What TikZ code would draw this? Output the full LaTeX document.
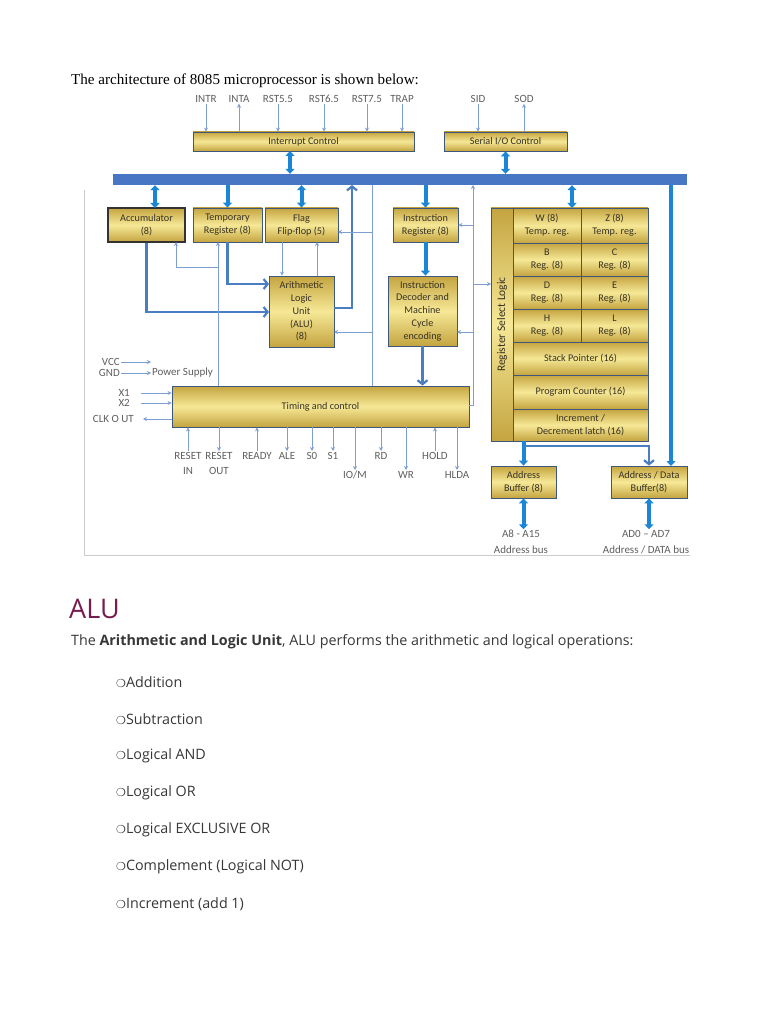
\documentclass[tikz,border=0pt]{standalone}
\usepackage{fontspec}
\setmainfont{Liberation Serif}
\newfontfamily\diagfont{Carlito}
\newfontfamily\bodyfont{Open Sans}
\newfontfamily\dingfont{DejaVu Sans}
\usetikzlibrary{arrows.meta}

\definecolor{busblue}{RGB}{70,118,196}
\definecolor{arrblue}{RGB}{28,134,214}
\definecolor{midblue}{RGB}{74,126,194}
\definecolor{thinblue}{RGB}{125,160,212}
\definecolor{boxline}{RGB}{62,88,125}
\definecolor{goldD}{RGB}{196,164,64}
\definecolor{goldL}{RGB}{246,232,150}
\definecolor{boxtext}{RGB}{55,50,35}
\definecolor{lbltext}{RGB}{95,95,95}
\definecolor{bodytext}{RGB}{55,55,55}
\definecolor{alured}{RGB}{118,28,78}

\newcommand{\bul}{{\dingfont\fontsize{11}{11}\selectfont ❍}}

\begin{document}
\begin{tikzpicture}[x=1pt, y=-1pt,
		blk/.style={draw=boxline, line width=0.8pt, top color=goldD, bottom color=goldD, middle color=goldL,
			align=center, inner sep=0pt, text=boxtext, font=\diagfont\fontsize{10.2}{12.8}\selectfont},
		lbl/.style={inner sep=1pt, align=center, text=lbltext, font=\diagfont\fontsize{11}{15.5}\selectfont},
		wire/.style={draw=thinblue, line width=0.8pt},
		sig/.style={wire, -{Stealth[length=4pt,width=4pt]}},
		fat/.style={draw=midblue, line width=2.2pt, -{Straight Barb[length=4pt,width=10pt]}},
		feed/.style={draw=arrblue, line width=4pt, -{Triangle[length=5pt,width=9pt]}},
		dbl/.style={draw=arrblue, line width=4pt, {Triangle[length=5pt,width=9pt]}-{Triangle[length=5pt,width=9pt]}},
		listitem/.style={anchor=west, inner sep=0pt, text=bodytext, font=\bodyfont\fontsize{14.3}{16}\selectfont}]
	\fill[white] (0,0) rectangle (768,1024);
	\useasboundingbox (0,0) rectangle (768,1024);

	% Heading line
	\node[anchor=west, inner sep=0pt, font=\fontsize{15.1}{17}\selectfont] (title) at (71,81) {The architecture of 8085 microprocessor is shown below:};

	% Interrupt and serial pins
	\node[lbl] (intr) at (206,99) {INTR};
	\node[lbl] (inta) at (239,99) {INTA};
	\node[lbl] (rst55) at (278,99) {RST5.5};
	\node[lbl] (rst65) at (324,99) {RST6.5};
	\node[lbl] (rst75) at (367,99) {RST7.5};
	\node[lbl] (trap) at (402,99) {TRAP};
	\node[lbl] (sid) at (478,99) {SID};
	\node[lbl] (sod) at (524,99) {SOD};

	% Control blocks on top
	\node[blk, minimum width=221pt, minimum height=19pt] (intc) at (303.5,141.5) {Interrupt Control};
	\node[blk, minimum width=123pt, minimum height=19pt] (sio) at (505.5,141.5) {Serial I/O Control};

	\draw[sig] (intr.south) -- (intr.south |- intc.north);
	\draw[sig] (inta.south |- intc.north) -- (inta.south);
	\draw[sig] (rst55.south) -- (rst55.south |- intc.north);
	\draw[sig] (rst65.south) -- (rst65.south |- intc.north);
	\draw[sig] (rst75.south) -- (rst75.south |- intc.north);
	\draw[sig] (trap.south) -- (trap.south |- intc.north);
	\draw[sig] (sid.south) -- (sid.south |- sio.north);
	\draw[sig] (sod.south |- sio.north) -- (sod.south);

	% Internal data bus
	\node[fill=busblue, minimum width=574pt, minimum height=11pt, inner sep=0pt] (bus) at (400,179.5) {};
	\coordinate (intport) at (290,151);
	\draw[dbl] (intport) -- (intport |- bus.north);
	\draw[dbl] (sio.south) -- (sio.south |- bus.north);

	% Accumulator, flags and ALU
	\node[blk, minimum width=77pt, minimum height=34pt, draw=black!80, line width=1.2pt] (acc) at (146.5,225) {Accumulator\\(8)};
	\node[blk, minimum width=69pt, minimum height=34pt] (temp) at (227.5,225) {Temporary\\Register (8)};
	\node[blk, minimum width=73pt, minimum height=34pt] (flag) at (301.5,225) {Flag\\Flip-flop (5)};
	\node[blk, minimum width=65pt, minimum height=71pt] (alu) at (301.5,311.5) {Arithmetic\\Logic\\Unit\\(ALU)\\(8)};

	% Instruction path
	\node[blk, minimum width=65pt, minimum height=34pt] (ir) at (425.5,225) {Instruction\\Register (8)};
	\node[blk, minimum width=69pt, minimum height=70pt] (dec) at (422.5,311) {Instruction\\Decoder and\\Machine\\Cycle\\encoding};

	% Register array
	\node[blk, rotate=90, minimum width=233pt, minimum height=22pt, font=\diagfont\fontsize{11.5}{13}\selectfont] (rsl) at (502,324.5) {Register Select Logic};
	\node[blk, minimum width=68pt, minimum height=35pt] (regw) at (547,225.5) {W (8)\\Temp. reg.};
	\node[blk, minimum width=67pt, minimum height=35pt] (regz) at (614.5,225.5) {Z (8)\\Temp. reg.};
	\node[blk, minimum width=68pt, minimum height=33pt] (regb) at (547,259.5) {B\\Reg. (8)};
	\node[blk, minimum width=67pt, minimum height=33pt] (regc) at (614.5,259.5) {C\\Reg. (8)};
	\node[blk, minimum width=68pt, minimum height=33pt] (regd) at (547,292.5) {D\\Reg. (8)};
	\node[blk, minimum width=67pt, minimum height=33pt] (rege) at (614.5,292.5) {E\\Reg. (8)};
	\node[blk, minimum width=68pt, minimum height=33pt] (regh) at (547,325.5) {H\\Reg. (8)};
	\node[blk, minimum width=67pt, minimum height=33pt] (regl) at (614.5,325.5) {L\\Reg. (8)};
	\node[blk, minimum width=135pt, minimum height=33pt] (sp) at (580.5,358.5) {Stack Pointer (16)};
	\node[blk, minimum width=135pt, minimum height=34pt] (pc) at (580.5,392) {Program Counter (16)};
	\node[blk, minimum width=135pt, minimum height=32pt] (latch) at (580.5,425) {Increment /\\Decrement latch (16)};

	% Timing and buffers
	\node[blk, minimum width=297pt, minimum height=41pt] (timing) at (320.5,406.5) {Timing and control};
	\node[blk, minimum width=65pt, minimum height=32pt] (abuf) at (523.5,482) {Address\\Buffer (8)};
	\node[blk, minimum width=76pt, minimum height=32pt] (adbuf) at (649,482) {Address / Data\\Buffer(8)};

	% Bus to blocks
	\coordinate (accport) at (155,208);
	\coordinate (regport) at (572,208);
	\coordinate (dataport) at (671,466);
	\draw[dbl] (accport |- bus.south) -- (accport);
	\draw[feed] (temp.north |- bus.south) -- (temp.north);
	\draw[dbl] (flag.north |- bus.south) -- (flag.north);
	\draw[feed] (ir.north |- bus.south) -- (ir.north);
	\draw[dbl] (regport |- bus.south) -- (regport);
	\draw[feed] (dataport |- bus.south) -- (dataport);

	% ALU paths
	\coordinate (aluout) at (334,308);
	\coordinate (aluup) at (352,185);
	\coordinate (aluina) at (269,312);
	\coordinate (aluinb) at (269,284);
	\draw[fat] (aluout) -| (aluup);
	\draw[fat] (acc.south) |- (aluina);
	\draw[fat] (temp.south) |- (aluinb);
	\coordinate (fa) at (282,242);
	\coordinate (af) at (317,242);
	\draw[sig] (fa) -- (fa |- alu.north);
	\draw[sig] (af |- alu.north) -- (af);

	% Control lines
	\coordinate (tmpin) at (218,242);
	\coordinate (accin) at (176,242);
	\coordinate (split) at (218,267);
	\draw[sig] (tmpin |- timing.north) -- (tmpin);
	\draw[sig] (split) -| (accin);
	\coordinate (l2top) at (372,185);
	\coordinate (flagin) at (338,232);
	\coordinate (aluin) at (334,332);
	\draw[wire] (l2top) -- (l2top |- timing.north);
	\draw[sig] (l2top |- flagin) -- (flagin);
	\draw[sig] (l2top |- aluin) -- (aluin);
	\coordinate (l3top) at (473,185);
	\coordinate (tmout) at (469,405);
	\coordinate (rslin) at (491,284);
	\coordinate (decin) at (457,332);
	\draw[sig] (tmout) -| (l3top);
	\draw[sig] (l3top |- ir.east) -- (ir.east);
	\draw[sig] (l3top |- rslin) -- (rslin);
	\draw[sig] (l3top |- decin) -- (decin);

	% Decoder and register outputs
	\draw[feed] (ir.south) -- (ir.south |- dec.north);
	\draw[fat] (dec.south) -- (dec.south |- timing.north);
	\draw[feed] (abuf.north |- latch.south) -- (abuf.north);
	\coordinate (fork) at (525,446);
	\draw[fat] (fork) -| (adbuf.north);

	% External buses
	\node[lbl] (abus) at (521,542) {A8 - A15\\Address bus};
	\node[lbl] (adbus) at (646,542) {AD0 – AD7\\Address / DATA bus};
	\draw[dbl] (abuf.south) -- (abuf.south |- abus.north);
	\draw[dbl] (adbuf.south) -- (adbuf.south |- adbus.north);

	% Power and clock
	\node[lbl, anchor=east] (vcc) at (121,362) {VCC};
	\node[lbl, anchor=east] (gnd) at (121,373) {GND};
	\node[lbl, anchor=west] (psu) at (151,373) {Power Supply};
	\node[lbl, anchor=east] (x1) at (131,393) {X1};
	\node[lbl, anchor=east] (x2) at (131,403) {X2};
	\node[lbl, anchor=east] (clk) at (135,419) {CLK O UT};
	\draw[sig] (vcc.east) -- (vcc.east -| psu.west);
	\draw[sig] (gnd.east) -- (psu.west);
	\draw[sig] (x1.east) ++(10,0) -- (x1.east -| timing.west);
	\draw[sig] (x2.east) ++(10,0) -- (x2.east -| timing.west);
	\draw[sig] (clk.east -| timing.west) -- ([xshift=8pt]clk.east);

	% Timing pins
	\node[lbl, anchor=north] (rstin) at (188,451) {RESET\\IN};
	\node[lbl, anchor=north] (rstout) at (219,451) {RESET\\OUT};
	\node[lbl, anchor=north] (ready) at (257,451) {READY};
	\node[lbl, anchor=north] (ale) at (287,451) {ALE};
	\node[lbl, anchor=north] (s0) at (312,451) {S0};
	\node[lbl, anchor=north] (s1) at (333,451) {S1};
	\node[lbl, anchor=north] (iom) at (355,470) {IO/M};
	\node[lbl, anchor=north] (rd) at (381,451) {RD};
	\node[lbl, anchor=north] (wr) at (406,470) {WR};
	\node[lbl, anchor=north] (hold) at (435,451) {HOLD};
	\node[lbl, anchor=north] (hlda) at (457,470) {HLDA};
	\draw[sig] (rstin.north) -- (rstin.north |- timing.south);
	\draw[sig] (rstout.north |- timing.south) -- (rstout.north);
	\draw[sig] (ready.north) -- (ready.north |- timing.south);
	\draw[sig] (ale.north |- timing.south) -- (ale.north);
	\draw[sig] (s0.north |- timing.south) -- (s0.north);
	\draw[sig] (s1.north |- timing.south) -- (s1.north);
	\draw[sig] (iom.north |- timing.south) -- (iom.north);
	\draw[sig] (rd.north |- timing.south) -- (rd.north);
	\draw[sig] (wr.north |- timing.south) -- (wr.north);
	\draw[sig] (hold.north) -- (hold.north |- timing.south);
	\draw[sig] (hlda.north |- timing.south) -- (hlda.north);

	% Frame of the figure
	\draw[black!20, line width=0.8pt] (84,190) -- (84,555) -- (690,555);

	% ALU text
	\node[anchor=west, inner sep=0pt, text=alured, font=\bodyfont\fontsize{27}{30}\selectfont] (head) at (69,609) {ALU};
	\node[listitem] (intro) at (71,642) {The \textbf{Arithmetic and Logic Unit}, ALU performs the arithmetic and logical operations:};
	\node[listitem] (op1) at (116,682) {\bul Addition};
	\node[listitem] (op2) at (116,719) {\bul Subtraction};
	\node[listitem] (op3) at (116,756) {\bul Logical AND};
	\node[listitem] (op4) at (116,793) {\bul Logical OR};
	\node[listitem] (op5) at (116,830) {\bul Logical EXCLUSIVE OR};
	\node[listitem] (op6) at (116,867) {\bul Complement (Logical NOT)};
	\node[listitem] (op7) at (116,904) {\bul Increment (add 1)};
\end{tikzpicture}
\end{document}
